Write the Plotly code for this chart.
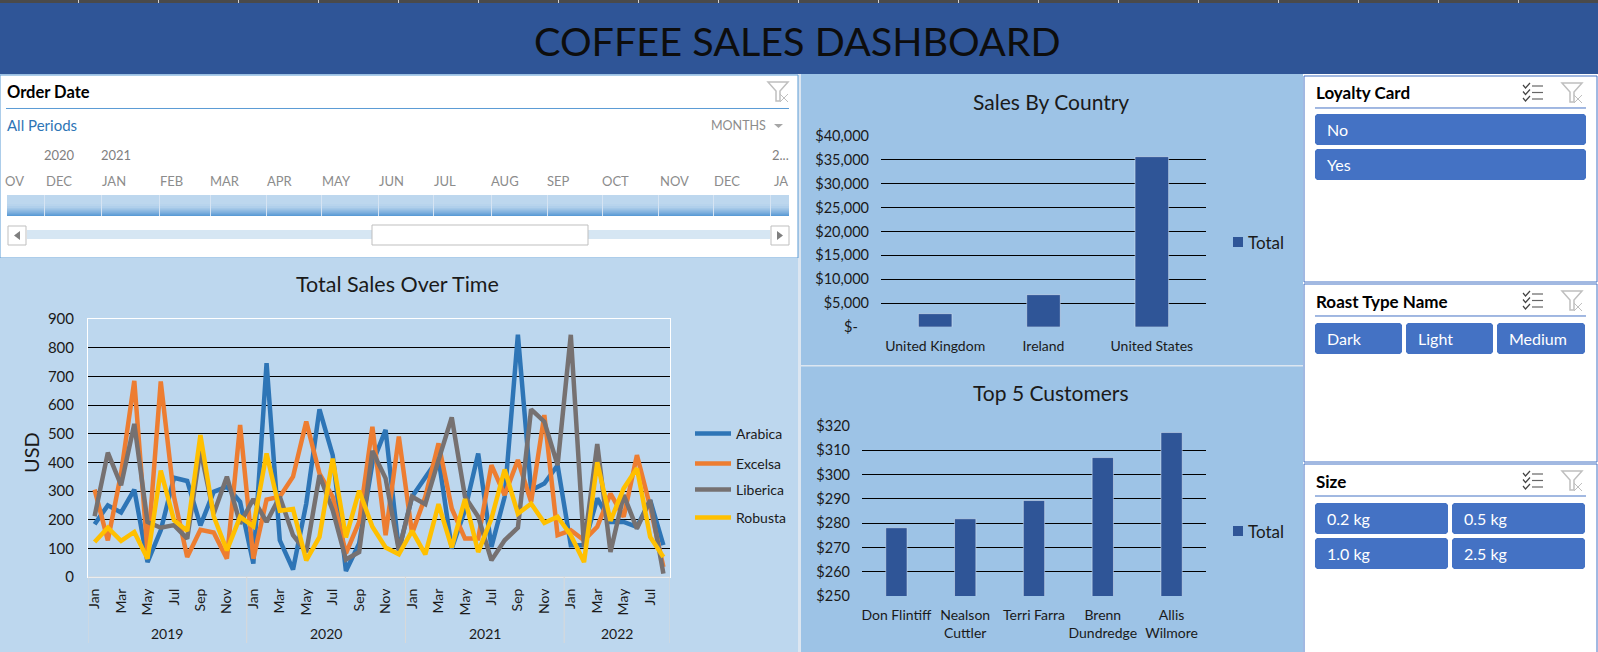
import plotly.graph_objects as go

W, H = 1598, 652

# monthly sales per coffee type, Jan 2019 - Aug 2022
years = ["2019", "2020", "2021", "2022"]
year_lengths = [12, 12, 12, 8]
month_names = ["Jan", "Feb", "Mar", "Apr", "May", "Jun", "Jul", "Aug", "Sep", "Oct", "Nov", "Dec"]
months = [f"{month_names[i % 12]} {2019 + i // 12}" for i in range(44)]

arabica = [184, 250, 225, 305, 52, 163, 346, 335, 180, 297, 315, 262,
           47, 746, 128, 26, 256, 585, 425, 21, 117, 396, 513, 93,
           280, 344, 414, 99, 233, 431, 105, 280, 845, 303, 326, 390,
           111, 111, 274, 192, 192, 175, 268, 111]
excelsa = [305, 128, 361, 684, 85, 682, 280, 70, 165, 155, 64, 530,
           64, 270, 280, 350, 542, 361, 280, 82, 192, 524, 146, 490,
           152, 280, 466, 239, 134, 134, 390, 286, 408, 262, 565, 146,
           163, 128, 175, 291, 210, 425, 245, 35]
liberica = [212, 434, 320, 534, 192, 172, 181, 134, 443, 221, 350, 186,
            272, 192, 280, 146, 87, 355, 233, 61, 87, 440, 344, 93,
            280, 254, 408, 557, 280, 210, 58, 128, 172, 585, 542, 390,
            845, 105, 464, 87, 286, 169, 268, 12]
robusta = [122, 172, 126, 157, 64, 371, 198, 161, 495, 212, 93, 210,
           177, 431, 231, 237, 58, 140, 413, 138, 301, 175, 103, 79,
           161, 79, 254, 103, 272, 87, 204, 375, 221, 256, 189, 210,
           146, 52, 400, 196, 309, 379, 140, 70]
line_names = ["Arabica", "Excelsa", "Liberica", "Robusta"]
line_colors = ["#2E75B6", "#ED7D31", "#767171", "#FFC000"]
line_ticks = [0, 100, 200, 300, 400, 500, 600, 700, 800, 900]

countries = ["United Kingdom", "Ireland", "United States"]
country_sales = [2790, 6770, 35670]
country_ticks = [0, 5000, 10000, 15000, 20000, 25000, 30000, 35000, 40000]
country_labels = ["$-\u00a0\u00a0\u00a0", "$5,000", "$10,000", "$15,000", "$20,000",
                  "$25,000", "$30,000", "$35,000", "$40,000"]

customers = ["Don Flintiff", "Nealson<br>Cuttler", "Terri Farra", "Brenn<br>Dundredge", "Allis<br>Wilmore"]
customer_sales = [278.1, 281.8, 289.3, 307, 317.3]
customer_ticks = [250, 260, 270, 280, 290, 300, 310, 320]
customer_labels = ["$250", "$260", "$270", "$280", "$290", "$300", "$310", "$320"]

timeline_labels = ["OV", "DEC", "JAN", "FEB", "MAR", "APR", "MAY", "JUN", "JUL", "AUG", "SEP", "OCT", "NOV", "DEC", "JA"]
timeline_centers = [14, 59, 114, 171, 225, 280, 336, 391, 445, 505, 558, 615, 674, 727, 781]
timeline_seps = [44, 101, 159, 210, 266, 321, 378, 433, 491, 547, 602, 658, 713, 770]

FONT = "Lato"
INK = "#1a1a1a"
NAVY = "#2F5597"
SLICER = "#4472C4"


def px(x):
    return x / W


def py(y):
    return 1 - y / H


shapes = []
annotations = []


def rect(x0, y0, x1, y1, fill, line=None, layer="below"):
    shapes.append(dict(type="rect", xref="paper", yref="paper", x0=px(x0), x1=px(x1), y0=py(y0), y1=py(y1),
                       fillcolor=fill, line=dict(color=line or fill, width=1 if line else 0), layer=layer))


def poly(points, fill=None, color=None, width=1, close=True):
    d = "M" + " L".join(f"{px(x):.5f},{py(y):.5f}" for x, y in points) + (" Z" if close else "")
    shapes.append(dict(type="path", xref="paper", yref="paper", path=d, fillcolor=fill or "rgba(0,0,0,0)",
                       line=dict(color=color or "rgba(0,0,0,0)", width=width), layer="below"))


def label(text, x, y, size=14, color=INK, anchor="left", bold=False, angle=0):
    if anchor == "left":
        x -= 2  # annotation box padding
    annotations.append(dict(text=f"<b>{text}</b>" if bold else text, xref="paper", yref="paper", x=px(x), y=py(y),
                            xanchor=anchor, yanchor="middle", showarrow=False, textangle=angle,
                            font=dict(family=FONT, size=size, color=color)))


def funnel_icon(x, y):
    poly([(x, y), (x + 20, y), (x + 12, y + 9), (x + 12, y + 19), (x + 8, y + 19), (x + 8, y + 9)], color="#BFBFBF", width=1.5)
    poly([(x + 12, y + 12), (x + 20, y + 20)], color="#BFBFBF", close=False)
    poly([(x + 20, y + 12), (x + 12, y + 20)], color="#BFBFBF", close=False)


def checklist_icon(x, y):
    for dy in (0, 6.5, 13):
        poly([(x, y + dy + 2), (x + 2.5, y + dy + 5), (x + 7, y + dy)], color="#444444", width=1.2, close=False)
        poly([(x + 9, y + dy + 3), (x + 20, y + dy + 3)], color="#666666", width=1.2, close=False)


def button(x0, y0, x1, y1, text):
    c = 2
    poly([(x0 + c, y0), (x1 - c, y0), (x1, y0 + c), (x1, y1 - c), (x1 - c, y1), (x0 + c, y1), (x0, y1 - c), (x0, y0 + c)],
         fill=SLICER)
    label(text, x0 + 12, (y0 + y1) / 2, size=16, color="#FFFFFF")


def slicer(y0, y1, title, buttons):
    rect(1304, y0, 1597, y1, "#FFFFFF", SLICER)
    label(title, 1316, y0 + 17, size=17, color="#000000", bold=True)
    checklist_icon(1523, y0 + 7)
    funnel_icon(1562, y0 + 7)
    poly([(1315, y0 + 32), (1586, y0 + 32)], color=SLICER, close=False)
    for b in buttons:
        button(*b)


# page background and header
rect(0, 0, W, H, "#DCE6F1")
rect(1303, 74, W, H, "#FFFFFF")
rect(0, 3, W, 74, NAVY)
rect(0, 0, W, 3, "#4A4A4A")
for x in range(78, W, 80):
    rect(x, 0, x + 1, 3, "#D0D0D0")
label("COFFEE SALES DASHBOARD", 797, 41, size=39.6, color="#0D0D0D", anchor="center")

# timeline slicer
rect(0, 75, 798, 258, "#FFFFFF", "#5B9BD5")
label("Order Date", 7, 92, size=16.5, color="#000000", bold=True)
poly([(6, 108.5), (789, 108.5)], color="#5B9BD5", close=False)
funnel_icon(768, 82)
label("All Periods", 7, 125, size=15, color="#2E75B6")
label("MONTHS", 768, 125, size=12.5, color="#8C8C8C", anchor="right")
poly([(774, 124), (783, 124), (778.5, 128)], fill="#A6A6A6")
label("2020", 59, 155, size=13, color="#7F7F7F", anchor="center")
label("2021", 116, 155, size=13, color="#7F7F7F", anchor="center")
label("2...", 780, 155, size=13, color="#7F7F7F", anchor="center")
for name, cx in zip(timeline_labels, timeline_centers):
    label(name, cx, 181, size=13, color="#8C8C8C", anchor="center")
# band gradient, each step painted down to the bottom so no seams show
band = [(195, "#BDD7EE"), (204, "#B8D4ED"), (206, "#B0CFEB"), (208, "#A4C8E8"), (209, "#9CC2E5"),
        (210, "#92BCE3"), (211, "#88B6E0"), (212, "#7FB0DE"), (213, "#73A9DB"), (214, "#67A2D8"), (215, "#5B9BD5")]
for y0, color in band:
    rect(7, y0, 789, 216, color)
for x in timeline_seps:
    rect(x, 195, x + 1, 216, "#D6E4F3")
rect(27, 230, 770, 239, "#D6E6F3")
rect(8, 226, 26, 245, "#FFFFFF", "#BFBFBF")
rect(771, 226, 789, 245, "#FFFFFF", "#BFBFBF")
rect(372, 225, 588, 245, "#FFFFFF", "#BFBFBF")
poly([(14, 235.5), (20, 231), (20, 240)], fill="#7F7F7F")
poly([(783, 235.5), (777, 231), (777, 240)], fill="#7F7F7F")

# chart backgrounds
rect(0, 258, 798, H, "#BDD7EE")
rect(801, 74, 1303, 365, "#9DC3E6")
rect(801, 366.5, 1303, H, "#9DC3E6")

label("Total Sales Over Time", 397, 284, size=21.5, anchor="center")
label("USD", 31, 453, size=20, anchor="center", angle=-90)
label("Sales By Country", 1051, 102, size=21, anchor="center")
label("Top 5 Customers", 1051, 392, size=21, anchor="center")

# bar chart legends
for cy in (242, 531):
    rect(1233, cy - 5, 1243, cy + 5, NAVY)
    label("Total", 1248, cy, size=17)

# slicers on the right
slicer(76, 282, "Loyalty Card", [(1315, 114, 1586, 145, "No"), (1315, 149, 1586, 180, "Yes")])
slicer(284, 462, "Roast Type Name", [(1315, 323, 1402, 354, "Dark"), (1406, 323, 1493, 354, "Light"), (1497, 323, 1585, 354, "Medium")])
slicer(464, 660, "Size", [(1315, 503, 1448, 534, "0.2 kg"), (1452, 503, 1585, 534, "0.5 kg"),
                          (1315, 538, 1448, 569, "1.0 kg"), (1452, 538, 1585, 569, "2.5 kg")])

fig = go.Figure()

for i, (name, values, color) in enumerate(zip(line_names, [arabica, excelsa, liberica, robusta], line_colors)):
    fig.add_trace(go.Scatter(x=months, y=values, name=name, mode="lines", line=dict(color=color, width=4.5),
                             xaxis="x", yaxis="y", legend="legend" if i == 0 else f"legend{i + 1}"))

fig.add_trace(go.Bar(x=countries, y=country_sales, name="Total", marker_color=NAVY, xaxis="x2", yaxis="y2", showlegend=False))
fig.add_trace(go.Bar(x=customers, y=customer_sales, name="Total", marker_color=NAVY, xaxis="x3", yaxis="y3", showlegend=False))

# year separators and labels under the month axis
start = 0
for year, length in zip(years, year_lengths):
    shapes.append(dict(type="line", xref="x", yref="paper", x0=start - 0.5, x1=start - 0.5, y0=py(577), y1=py(643),
                       line=dict(color="#D9D9D9", width=1)))
    annotations.append(dict(text=year, xref="x", yref="paper", x=start + length / 2 - 0.5, y=py(633), yanchor="middle",
                            showarrow=False, font=dict(family=FONT, size=14, color=INK)))
    start += length
shapes.append(dict(type="line", xref="x", yref="paper", x0=43.5, x1=43.5, y0=py(577), y1=py(643),
                   line=dict(color="#D9D9D9", width=1)))
shapes.append(dict(type="line", xref="x", yref="paper", x0=-0.5, x1=43.5, y0=py(577), y1=py(577),
                   line=dict(color="#D9D9D9", width=1)))

legend_base = dict(bgcolor="rgba(0,0,0,0)", xanchor="left", yanchor="middle", itemwidth=36, itemclick=False,
                   font=dict(family=FONT, size=14, color=INK))

fig.update_layout(
    width=W, height=H, autosize=False,
    margin=dict(l=0, r=0, t=0, b=0),
    paper_bgcolor="#DCE6F1", plot_bgcolor="rgba(0,0,0,0)",
    font=dict(family=FONT, size=14, color=INK),
    showlegend=True,
    shapes=shapes, annotations=annotations,
    legend=dict(x=px(690), y=py(434), **legend_base),
    legend2=dict(x=px(690), y=py(464), **legend_base),
    legend3=dict(x=px(690), y=py(490), **legend_base),
    legend4=dict(x=px(690), y=py(518), **legend_base),
    xaxis=dict(domain=[px(88), px(670)], range=[-0.5, 43.5], type="category", categoryorder="array", categoryarray=months,
               tickmode="array", tickvals=months[::2], ticktext=[m.split()[0] for m in months[::2]], tickangle=-90,
               showgrid=False, zeroline=False, showline=True, linecolor="#FFFFFF", mirror=True, ticks="", ticklabelstandoff=5,
               tickfont=dict(size=14), automargin=False),
    yaxis=dict(domain=[py(577), py(319)], range=[0, 900], tickvals=line_ticks, showgrid=True, gridcolor="#000000", gridwidth=1,
               zeroline=False, showline=True, linecolor="#FFFFFF", mirror=True, ticks="", ticklabelstandoff=10,
               tickfont=dict(size=15), automargin=False),
    xaxis2=dict(domain=[px(881), px(1206)], anchor="y2", showgrid=False, zeroline=False, ticks="", ticklabelstandoff=9,
                tickfont=dict(size=14), automargin=False),
    yaxis2=dict(domain=[py(327), py(136)], anchor="x2", range=[0, 40000], tickvals=country_ticks, ticktext=country_labels,
                showgrid=True, gridcolor="#000000", gridwidth=1, zeroline=False, ticks="",
                ticklabelstandoff=11, tickfont=dict(size=14.5), automargin=False),
    xaxis3=dict(domain=[px(862), px(1206)], anchor="y3", showgrid=False, zeroline=False, ticks="", ticklabelstandoff=9,
                tickfont=dict(size=14), automargin=False),
    yaxis3=dict(domain=[py(596), py(426)], anchor="x3", range=[250, 320], tickvals=customer_ticks, ticktext=customer_labels,
                showgrid=True, gridcolor="#000000", gridwidth=1, zeroline=False, ticks="", ticklabelstandoff=11,
                tickfont=dict(size=14.5), automargin=False),
    bargap=0.69,
)

fig.write_html("out.html", config={"displayModeBar": False},
               post_script="document.body.style.margin='0';document.body.style.overflow='hidden';")
